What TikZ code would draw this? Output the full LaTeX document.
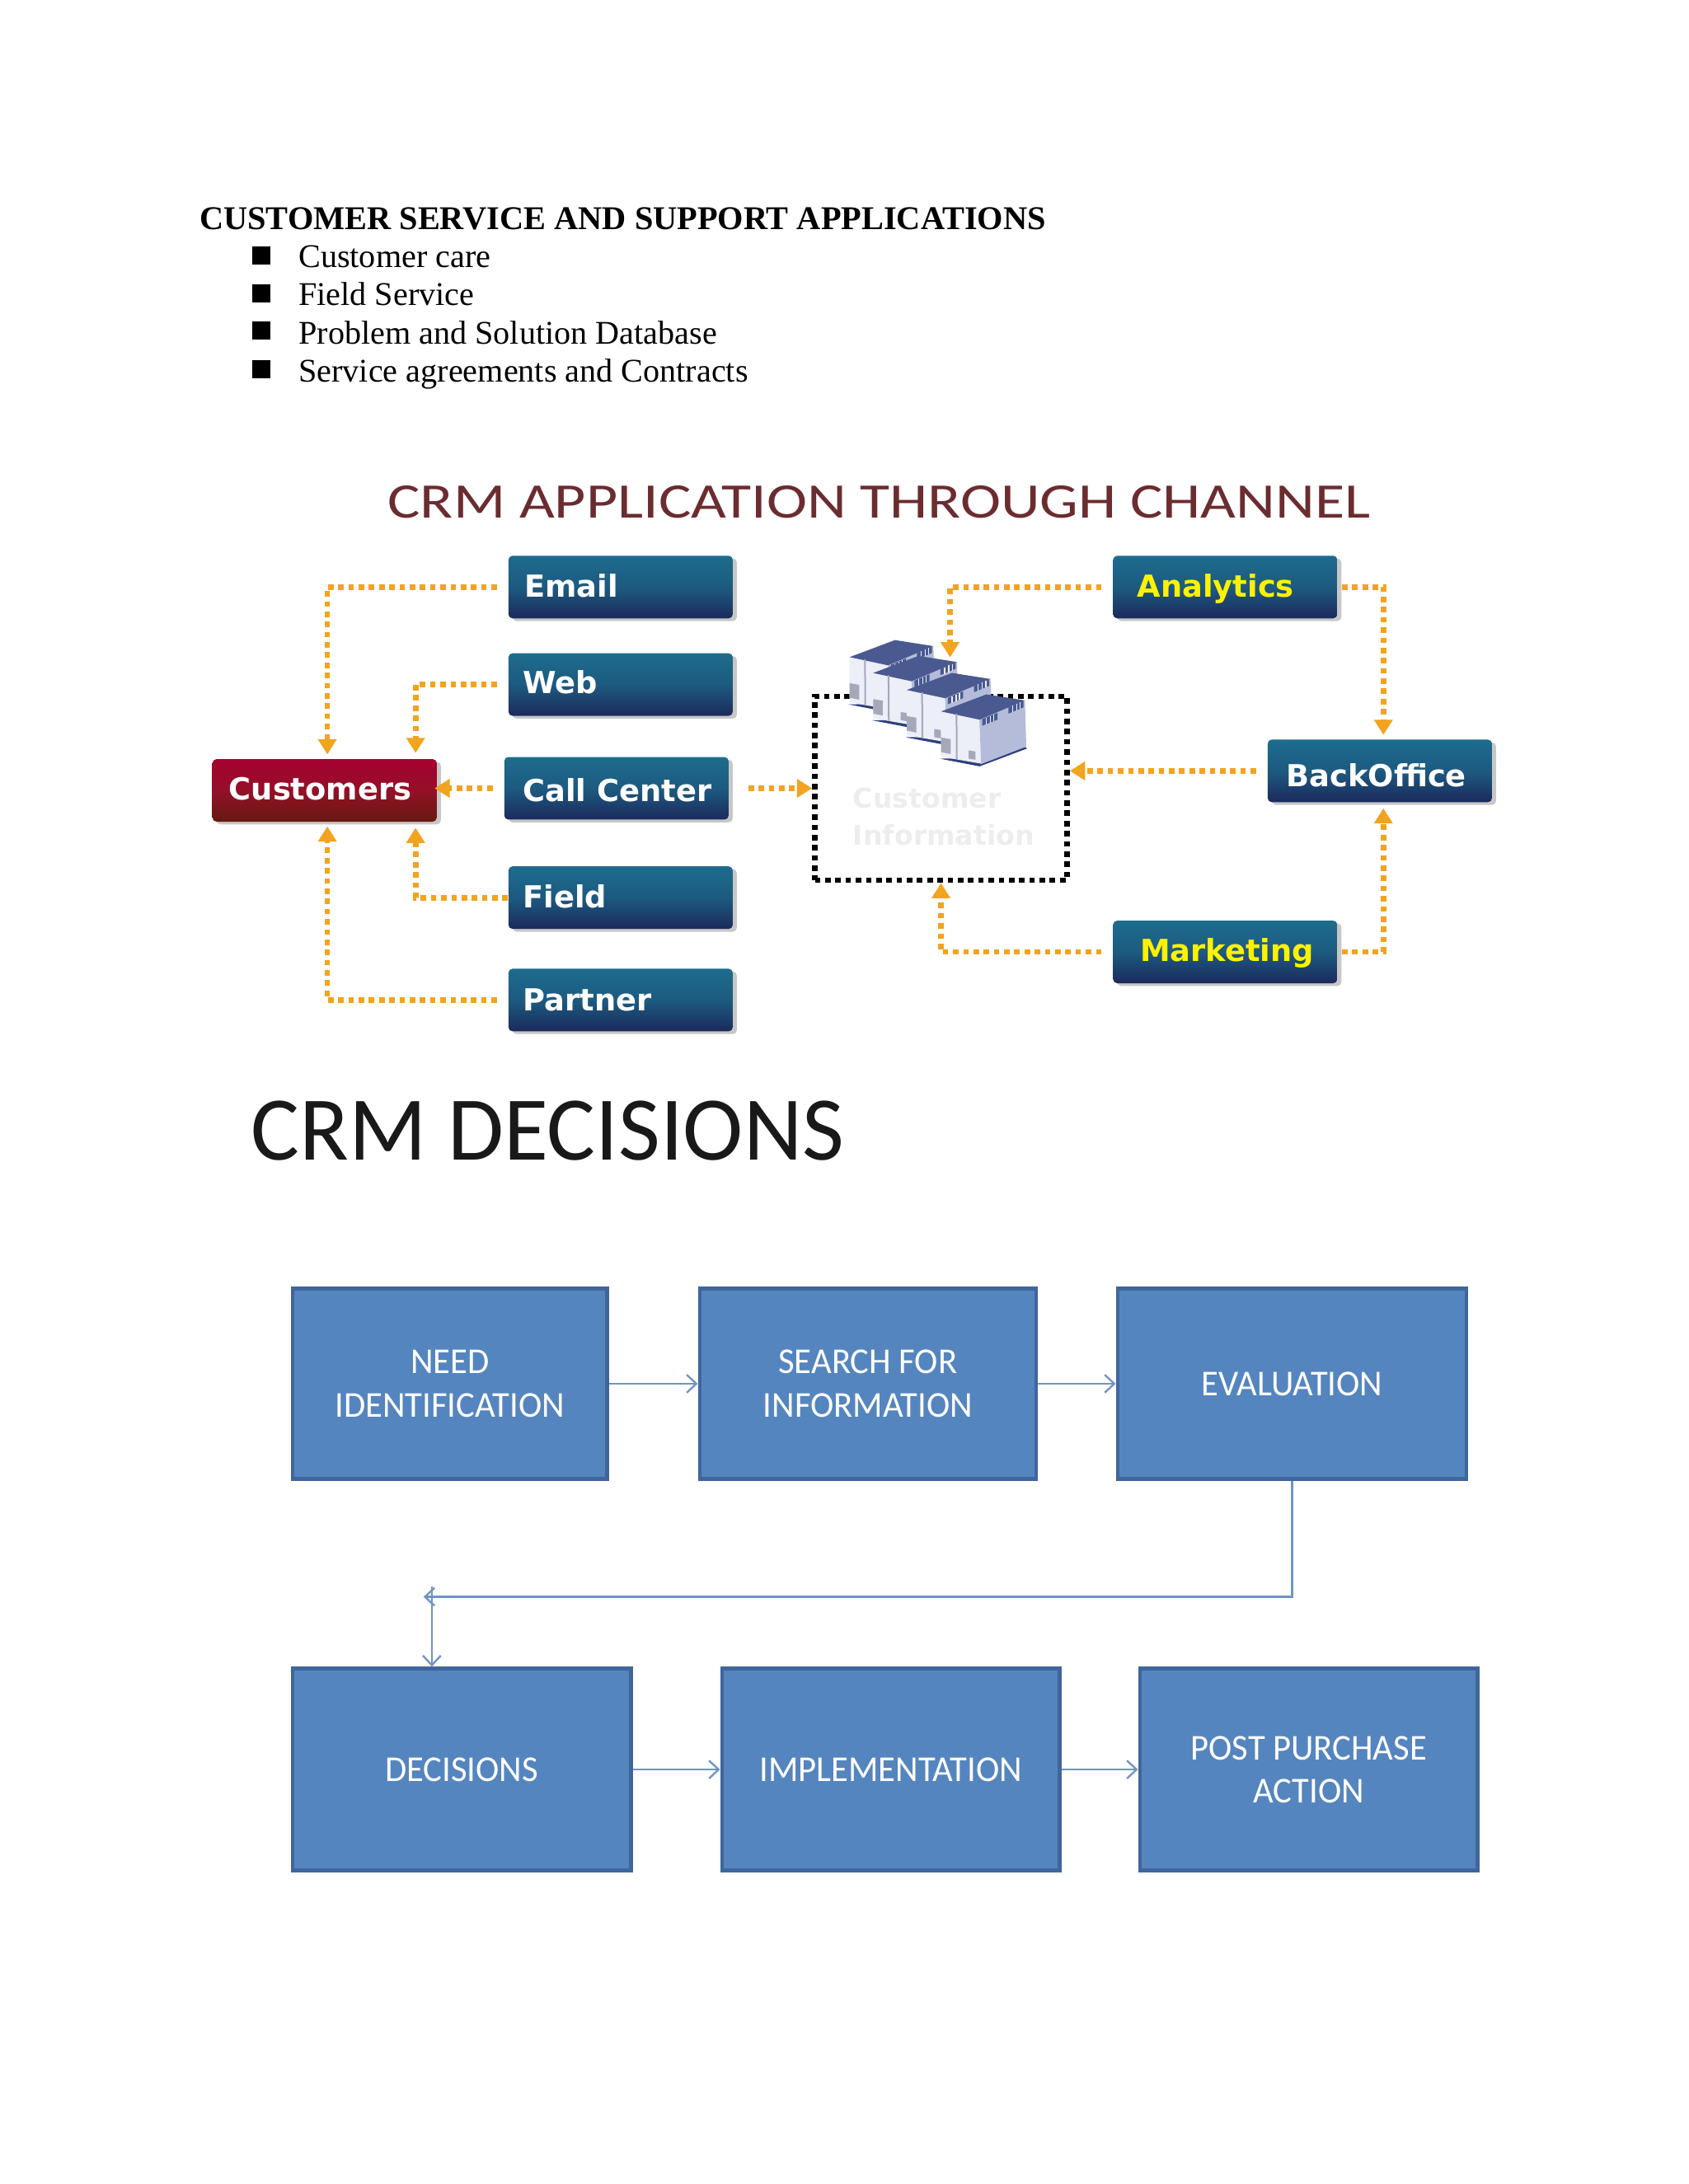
\documentclass[tikz,border=0pt]{standalone}
\usepackage{fontspec}
\setmainfont{Liberation Serif}
\newfontfamily\chanfont{DejaVu Sans}
\newfontfamily\calfont{Carlito}
\newfontfamily\stepfont[FakeStretch=0.965]{Carlito}
\newfontfamily\titlefont[FakeStretch=1.228]{Carlito}
\usetikzlibrary{arrows.meta,shadows,calc}
\definecolor{teal1}{HTML}{1D6C8F}
\definecolor{teal2}{HTML}{1D5A80}
\definecolor{navy1}{HTML}{1B2A5C}
\definecolor{red1}{HTML}{A60030}
\definecolor{red2}{HTML}{941028}
\definecolor{red3}{HTML}{651A10}
\definecolor{orng}{HTML}{F2A31F}
\definecolor{flowfill}{HTML}{5585BE}
\definecolor{flowedge}{HTML}{3F669C}
\definecolor{flowline}{HTML}{6F94C6}
\definecolor{titlered}{HTML}{6B2C30}
\definecolor{srvbase}{HTML}{2E3F7E}
\definecolor{srvtop}{HTML}{4A5A90}
\definecolor{srvleft}{HTML}{ECEEF8}
\definecolor{srvright}{HTML}{B4BCDA}
\definecolor{srvgrey}{HTML}{A4A8B8}
\tikzset{
  chan/.style={rounded corners=1.5pt,minimum width=81.3pt,minimum height=22.7pt,inner sep=0pt,
    top color=teal1,bottom color=navy1,middle color=teal2,
    drop shadow={shadow xshift=1.5pt,shadow yshift=-1pt,fill=black,opacity=.22}},
  custbox/.style={chan,top color=red1,bottom color=red3,middle color=red2},
  chantext/.style={inner sep=0pt,anchor=base west,text=white,font=\chanfont\bfseries\fontsize{11}{13}\selectfont},
  yelltext/.style={chantext,text=yellow},
  ghost/.style={inner sep=0pt,anchor=base west,text=black!7,font=\chanfont\bfseries\fontsize{9.9}{11}\selectfont},
  dots/.style={draw=orng,line width=2pt,dash pattern=on 2pt off 1.7pt,
    -{Triangle[length=5.5pt,width=6.5pt,fill=orng,sep=0pt]}},
  dbbox/.style={draw=black,line width=2pt,dash pattern=on 2pt off 1.7pt,minimum width=91.4pt,minimum height=66.7pt,inner sep=0pt},
  flowbox/.style={draw=flowedge,fill=flowfill,line width=1.4pt,inner sep=0pt,align=center,text=white,
    font=\stepfont\fontsize{13.2}{15.7}\selectfont},
  flow/.style={draw=flowline,line width=.7pt,-{Straight Barb[length=3.5pt,width=6.5pt]}},
  bul/.style={fill=black,inner sep=0pt,minimum size=6.5pt},
  body/.style={inner sep=0pt,anchor=base west,font=\fontsize{12}{14}\selectfont},
}
\newcommand{\srvtower}[2]{%
  \begin{scope}[shift={(#1,#2)},scale=0.1972]
    \fill[srvbase] (-5,172) -- (140,200) -- (313,135) -- (295,122) -- (145,170) -- cycle;
    \fill[srvleft] (0,0) -- (140,30) -- (145,190) -- (0,165) -- cycle;
    \fill[srvright] (140,30) -- (305,-40) -- (310,128) -- (145,192) -- cycle;
    \fill[srvtop] (0,0) -- (165,-62) -- (305,-40) -- (140,30) -- cycle;
    \fill[srvgrey] (53,8) -- (59,9) -- (60,175) -- (54,174) -- cycle;
    \fill[srvgrey] (0,95) -- (35,101) -- (35,155) -- (0,148) -- cycle;
    \fill[srvtop] (150,28) -- (205,5) -- (205,30) -- (150,52) -- cycle;
    \fill[srvtop] (245,-15) -- (300,-38) -- (300,-15) -- (245,8) -- cycle;
    \fill[srvgrey] (100,142) -- (125,146) -- (125,176) -- (100,172) -- cycle;
    \draw[srvleft,line width=.4pt] (165,22) -- (165,48) (180,16) -- (180,42) (192,10) -- (192,36)
      (260,-21) -- (260,3) (275,-28) -- (275,-3) (288,-33) -- (288,-9);
  \end{scope}}
\begin{document}
\begin{tikzpicture}[x=0.50495pt,y=-0.50495pt]
\useasboundingbox (0,0) rectangle (1212,1568.1);
% top text
\node[body,font=\bfseries\fontsize{12.05}{14}\selectfont] (head) at (143,165) {CUSTOMER SERVICE AND SUPPORT APPLICATIONS};
\node[bul] (b1) at (187.5,183.5) {};
\node[bul] (b2) at (187.5,210.5) {};
\node[bul] (b3) at (187.5,237.5) {};
\node[bul] (b4) at (187.5,265) {};
\node[body] (t1) at (214,192) {Customer care};
\node[body] (t2) at (214,219.5) {Field Service};
\node[body] (t3) at (214,247) {Problem and Solution Database};
\node[body] (t4) at (214,274.5) {Service agreements and Contracts};
% channel title
\node[inner sep=0pt,anchor=base west,text=titlered,font=\titlefont\fontsize{18}{20}\selectfont] (crmtitle) at (278,372) {CRM APPLICATION THROUGH CHANNEL};
% channel boxes
\node[chan] (email) at (445.5,421.5) {};
\node[chan] (web) at (445.5,491.5) {};
\node[chan] (call) at (442.5,566) {};
\node[chan] (field) at (445.5,644.5) {};
\node[chan] (partner) at (445.5,718) {};
\node[custbox] (cust) at (233,567.5) {};
\node[chan] (analytics) at (879.5,421.5) {};
\node[chan] (back) at (990.5,553.5) {};
\node[chan] (marketing) at (879.5,683.5) {};
\node[chantext] (emailt) at (376,429) {Email};
\node[chantext] (webt) at (375,498) {Web};
\node[chantext] (callt) at (375,575.5) {Call Center};
\node[chantext] (fieldt) at (375,652) {Field};
\node[chantext] (partnert) at (375,725.5) {Partner};
\node[chantext] (custt) at (164,574) {Customers};
\node[yelltext] (analyticst) at (816,429) {Analytics};
\node[chantext] (backt) at (923,565) {BackOffice};
\node[yelltext] (marketingt) at (818,690) {Marketing};
% database
\node[dbbox] (db) at (675.5,566) {};
\srvtower{609.9}{471.8}
\srvtower{626.8}{483.2}
\srvtower{650.9}{495.4}
\srvtower{675.6}{510.8}
\node[ghost] (ci1) at (612,580) {Customer};
\node[ghost] (ci2) at (612,607) {Information};
\coordinate (srvtip) at (682,472);
% channel connectors
\draw[dots,shorten <=4pt,shorten >=1.5pt] (email.west) -| ([xshift=1pt]cust.north);
\draw[dots,shorten <=4pt,shorten >=2pt] (web.west) -| ([xshift=33pt]cust.north);
\draw[dots,shorten <=4pt] (call.west) -- ([xshift=-1pt]call.west -| cust.east);
\draw[dots,shorten <=7pt] (call.east) -- (call.east -| db.west);
\draw[dots,shorten >=2pt] (field.west) -| ([xshift=33pt]cust.south);
\draw[dots,shorten <=4pt,shorten >=1.5pt] (partner.west) -| ([xshift=1pt]cust.south);
\draw[dots,shorten <=4pt] (analytics.west) -| (srvtip);
\draw[dots,shorten <=1.5pt,shorten >=1.5pt] (analytics.east) -| ([xshift=1.3pt]back.north);
\draw[dots,shorten <=4pt] (back.west) -- (back.west -| db.east);
\draw[dots,shorten <=4pt] (marketing.west) -| (db.south);
\draw[dots,shorten <=1.5pt,shorten >=2pt] (marketing.east) -| ([xshift=1.3pt]back.south);
% decisions
\node[inner sep=0pt,anchor=base west,text=black!90,font=\calfont\fontsize{33}{36}\selectfont] (dectitle) at (180,833) {CRM DECISIONS};
\node[flowbox,minimum width=114.1pt,minimum height=69.2pt] (need) at (323,993.5) {NEED\\IDENTIFICATION};
\node[flowbox,minimum width=121.9pt,minimum height=69.2pt] (search) at (623,993.5) {SEARCH FOR\\INFORMATION};
\node[flowbox,minimum width=126.4pt,minimum height=69.2pt] (eval) at (927.5,993.5) {EVALUATION};
\node[flowbox,minimum width=122.7pt,minimum height=73.2pt] (dec) at (331.5,1270.5) {DECISIONS};
\node[flowbox,minimum width=122.4pt,minimum height=73.2pt] (impl) at (639.5,1270.5) {IMPLEMENTATION};
\node[flowbox,minimum width=122.4pt,minimum height=73.2pt] (post) at (939.5,1270.5) {POST PURCHASE\\ACTION};
\coordinate (turn) at (304,1146.5);
\coordinate (drop) at (310,1139);
\draw[flow] (need.east) -- (search.west);
\draw[flow] (search.east) -- (eval.west);
\draw[flow] (eval.south) |- (turn);
\draw[flow] (drop) -- (drop |- dec.north);
\draw[flow] (dec.east) -- (impl.west);
\draw[flow] (impl.east) -- (post.west);
\end{tikzpicture}
\end{document}
